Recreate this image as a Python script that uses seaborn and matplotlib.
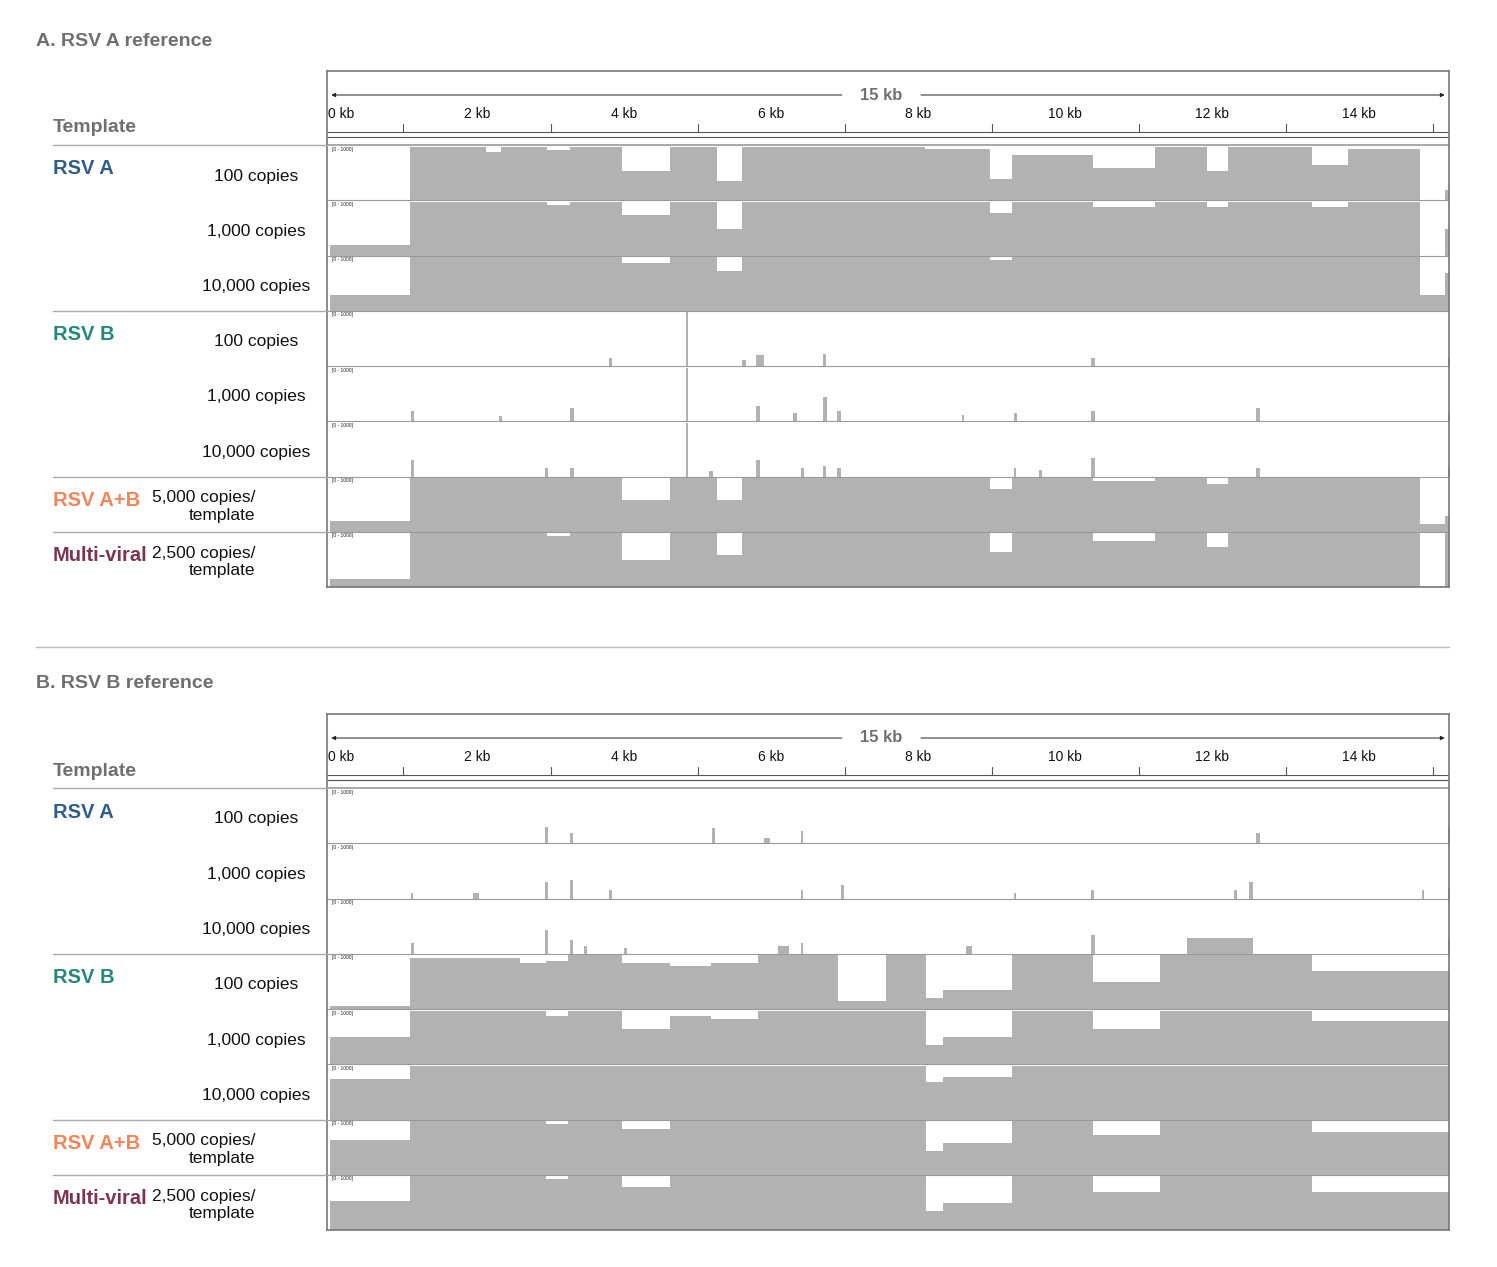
import numpy as np
import matplotlib
matplotlib.use("Agg")
import matplotlib.pyplot as plt
import seaborn as sns

sns.set_theme(style="white", font="Liberation Sans")

W, H = 1497, 1267
GENOME_END = 15.22

# ---------------- data ----------------
track_labels = ["100 copies", "1,000 copies", "10,000 copies", "100 copies", "1,000 copies",
                "10,000 copies", "5,000 copies/\ntemplate", "2,500 copies/\ntemplate"]
group_names = ["RSV A", "RSV B", "RSV A+B", "Multi-viral"]
group_colors = ["#2f5d8c", "#24897a", "#f4845a", "#7b3452"]
tick_kb = [0, 2, 4, 6, 8, 10, 12, 14]

# Panel A (RSV A reference): segment breakpoints (kb) and coverage fraction per segment
bp_A = [0, 1.09, 2.12, 2.33, 2.95, 3.26, 3.97, 4.63, 5.27, 5.6, 8.1, 8.98, 9.28, 10.38,
        11.22, 11.93, 12.22, 13.35, 13.85, 14.83, 15.17, 15.22]
A_rsvA_100 = [0, 1, 0.9, 1, 0.93, 1, 0.55, 1, 0.35, 1, 0.95, 0.4, 0.85, 0.6, 1, 0.55, 1, 0.65, 0.95, 0, 0.2]
A_rsvA_1000 = [0.2, 1, 1, 1, 0.95, 1, 0.75, 1, 0.5, 1, 1, 0.8, 1, 0.9, 1, 0.9, 1, 0.9, 1, 0, 0.5]
A_rsvA_10000 = [0.3, 1, 1, 1, 1, 1, 0.9, 1, 0.75, 1, 1, 0.95, 1, 1, 1, 1, 1, 1, 1, 0.3, 0.7]
A_rsvAB = [0.2, 1, 1, 1, 1, 1, 0.6, 1, 0.6, 1, 1, 0.8, 1, 0.95, 1, 0.9, 1, 1, 1, 0.15, 0.3]
A_multi = [0.15, 1, 1, 1, 0.95, 1, 0.5, 1, 0.6, 1, 1, 0.65, 1, 0.85, 1, 0.75, 1, 1, 1, 0, 1]
# sparse spikes: (position kb, width kb, coverage fraction)
A_rsvB_100 = [(3.8, .04, .15), (5.6, .06, .12), (5.8, .1, .2), (6.7, .05, .22), (10.35, .05, .15), (15.2, .03, .15), (4.84, .03, 1.0)]
A_rsvB_1000 = [(1.1, .04, .2), (2.3, .04, .1), (3.27, .05, .25), (5.8, .05, .28), (6.3, .05, .15), (6.7, .06, .45),
               (6.9, .05, .2), (8.6, .03, .12), (9.3, .04, .15), (10.35, .05, .2), (12.6, .05, .25), (15.2, .03, .15), (4.84, .03, 1.0)]
A_rsvB_10000 = [(1.1, .04, .3), (2.92, .04, .15), (3.27, .05, .15), (5.15, .06, .1), (5.8, .05, .3), (6.4, .05, .15),
                (6.7, .05, .2), (6.9, .05, .15), (9.3, .03, .15), (9.65, .03, .12), (10.35, .05, .35), (12.6, .05, .15),
                (15.2, .03, .15), (4.84, .03, 1.0)]

# Panel B (RSV B reference)
bp_B = [0, 1.09, 2.59, 2.94, 3.24, 3.97, 4.63, 5.18, 5.82, 6.91, 7.56, 8.11, 8.34, 9.28, 10.38, 11.29, 12.22, 13.35, 15.22]
B_rsvB_100 = [0.05, 0.95, 0.85, 0.9, 1, 0.85, 0.8, 0.85, 1, 0.15, 1, 0.2, 0.35, 1, 0.5, 1, 1, 0.7]
B_rsvB_1000 = [0.5, 1, 1, 0.9, 1, 0.65, 0.9, 0.85, 1, 1, 1, 0.35, 0.5, 1, 0.65, 1, 1, 0.8]
B_rsvB_10000 = [0.75, 1, 1, 1, 1, 1, 1, 1, 1, 1, 1, 0.7, 0.8, 1, 1, 1, 1, 1]
B_rsvAB = [0.65, 1, 1, 0.95, 1, 0.85, 1, 1, 1, 1, 1, 0.45, 0.6, 1, 0.75, 1, 1, 0.8]
B_multi = [0.55, 1, 1, 0.95, 1, 0.8, 1, 1, 1, 1, 1, 0.35, 0.5, 1, 0.7, 1, 1, 0.7]
B_rsvA_100 = [(2.92, .04, .3), (3.27, .04, .2), (5.2, .04, .28), (5.9, .08, .1), (6.4, .04, .22), (12.6, .05, .2), (15.2, .03, .3)]
B_rsvA_1000 = [(1.1, .03, .1), (1.95, .08, .1), (2.92, .04, .3), (3.27, .04, .35), (3.8, .04, .15), (6.4, .04, .15),
               (6.95, .04, .25), (9.3, .03, .1), (10.35, .04, .15), (12.3, .03, .15), (12.5, .05, .3), (14.85, .03, .15), (15.2, .03, .2)]
B_rsvA_10000 = [(1.1, .04, .2), (2.92, .05, .45), (3.27, .04, .25), (3.45, .04, .15), (4.0, .04, .1), (6.1, .15, .15),
                (6.4, .04, .2), (8.65, .08, .15), (10.35, .05, .35), (11.66, .9, .3), (15.2, .03, .25)]

panels = [
    ("A. RSV A reference", 71, 587, [("seg", bp_A, A_rsvA_100), ("seg", bp_A, A_rsvA_1000), ("seg", bp_A, A_rsvA_10000),
                                     ("spk", None, A_rsvB_100), ("spk", None, A_rsvB_1000), ("spk", None, A_rsvB_10000),
                                     ("seg", bp_A, A_rsvAB), ("seg", bp_A, A_multi)]),
    ("B. RSV B reference", 714, 1230, [("spk", None, B_rsvA_100), ("spk", None, B_rsvA_1000), ("spk", None, B_rsvA_10000),
                                       ("seg", bp_B, B_rsvB_100), ("seg", bp_B, B_rsvB_1000), ("seg", bp_B, B_rsvB_10000),
                                       ("seg", bp_B, B_rsvAB), ("seg", bp_B, B_multi)]),
]

FILL = "#b1b2b1"
GRAY_T = "#6f6f6f"

fig = plt.figure(figsize=(W / 100, H / 100), dpi=100)

def fx(px): return px / W
def fy(py): return 1 - py / H

AX_L, AX_R = 327, 1449
TRACK_TOP_OFF = 74  # px from axes top to first track
for title, top, bot, tracks in panels:
    ax = fig.add_axes([fx(AX_L), fy(bot), fx(AX_R - AX_L), (bot - top) / H])
    th = (bot - top - TRACK_TOP_OFF) / 8.0
    ytop = 8 + TRACK_TOP_OFF / th
    ax.set_xlim(-0.04, GENOME_END)
    ax.set_ylim(0, ytop)
    for i, (kind, bp, vals) in enumerate(tracks):
        base = 7 - i
        if kind == "seg":
            xs = np.repeat(bp, 2)[1:-1]
            ys = np.repeat(vals, 2)
            ax.fill_between(xs, base, base + np.array(ys) * 0.97, color=FILL, lw=0)
        else:
            for (p, w, h) in vals:
                ax.fill_between([p, p + w], base, base + h * 0.97, color=FILL, lw=0)
        ax.text(0.03, base + 0.97, "[0 - 1000]", fontsize=3.5, va="top", ha="left", color="#222")
        ax.axhline(base, color="#9a9a9a", lw=0.8)
    ax.axhline(8, color="#9a9a9a", lw=1.2)
    # ruler
    py = lambda p: (bot - p) / th
    ax.plot([-0.04, GENOME_END], [py(top + 61)] * 2, color="#555", lw=0.8)
    ax.plot([-0.04, GENOME_END], [py(top + 66)] * 2, color="#555", lw=0.8)
    for k in tick_kb:
        ax.text(k - 0.02 if k == 0 else k, py(top + 43), f"{k} kb", ha="left" if k == 0 else "center",
                va="center", fontsize=10, color="#111")
    for k in np.arange(1, 16, 2):
        ax.plot([k, k], [py(top + 53), py(top + 61)], color="#555", lw=0.8)
    ay = py(top + 24)
    ax.annotate("", xy=(-0.02, ay), xytext=(7.0, ay), arrowprops=dict(arrowstyle="-|>", color="#222", lw=0.7, mutation_scale=6))
    ax.annotate("", xy=(GENOME_END - 0.02, ay), xytext=(8.0, ay), arrowprops=dict(arrowstyle="-|>", color="#222", lw=0.7, mutation_scale=6))
    ax.text(7.5, ay, "15 kb", ha="center", va="center", fontsize=12, fontweight="bold", color=GRAY_T)
    ax.set_xticks([]); ax.set_yticks([])
    for s in ax.spines.values():
        s.set_color("#777"); s.set_linewidth(1.2)

    # left labels
    fig.text(fx(36), fy(top - 30), title, fontsize=14, fontweight="bold", color=GRAY_T, va="center")
    fig.text(fx(53), fy(top + 57), "Template", fontsize=14, fontweight="bold", color=GRAY_T, va="center")
    ttop = top + TRACK_TOP_OFF
    for yy in [ttop, ttop + 3 * th, ttop + 6 * th, ttop + 7 * th]:
        fig.add_artist(plt.Line2D([fx(53), fx(AX_L)], [fy(yy)] * 2, color="#aaa", lw=1))
    starts = [0, 3, 6, 7]
    for g, s in enumerate(starts):
        fig.text(fx(53), fy(ttop + s * th + 24), group_names[g], fontsize=14.5, fontweight="bold",
                 color=group_colors[g], va="center")
    for i, lab in enumerate(track_labels):
        yc = ttop + i * th + (31 if "\n" not in lab else 30)
        fig.text(fx(256 if "\n" not in lab else 255), fy(yc), lab, fontsize=12.5, color="#111",
                 ha="center" if "\n" not in lab else "right", va="center", multialignment="right")

fig.add_artist(plt.Line2D([fx(36), fx(1449)], [fy(647)] * 2, color="#bbb", lw=1))
fig.savefig("out.png", dpi=100, facecolor="white")
